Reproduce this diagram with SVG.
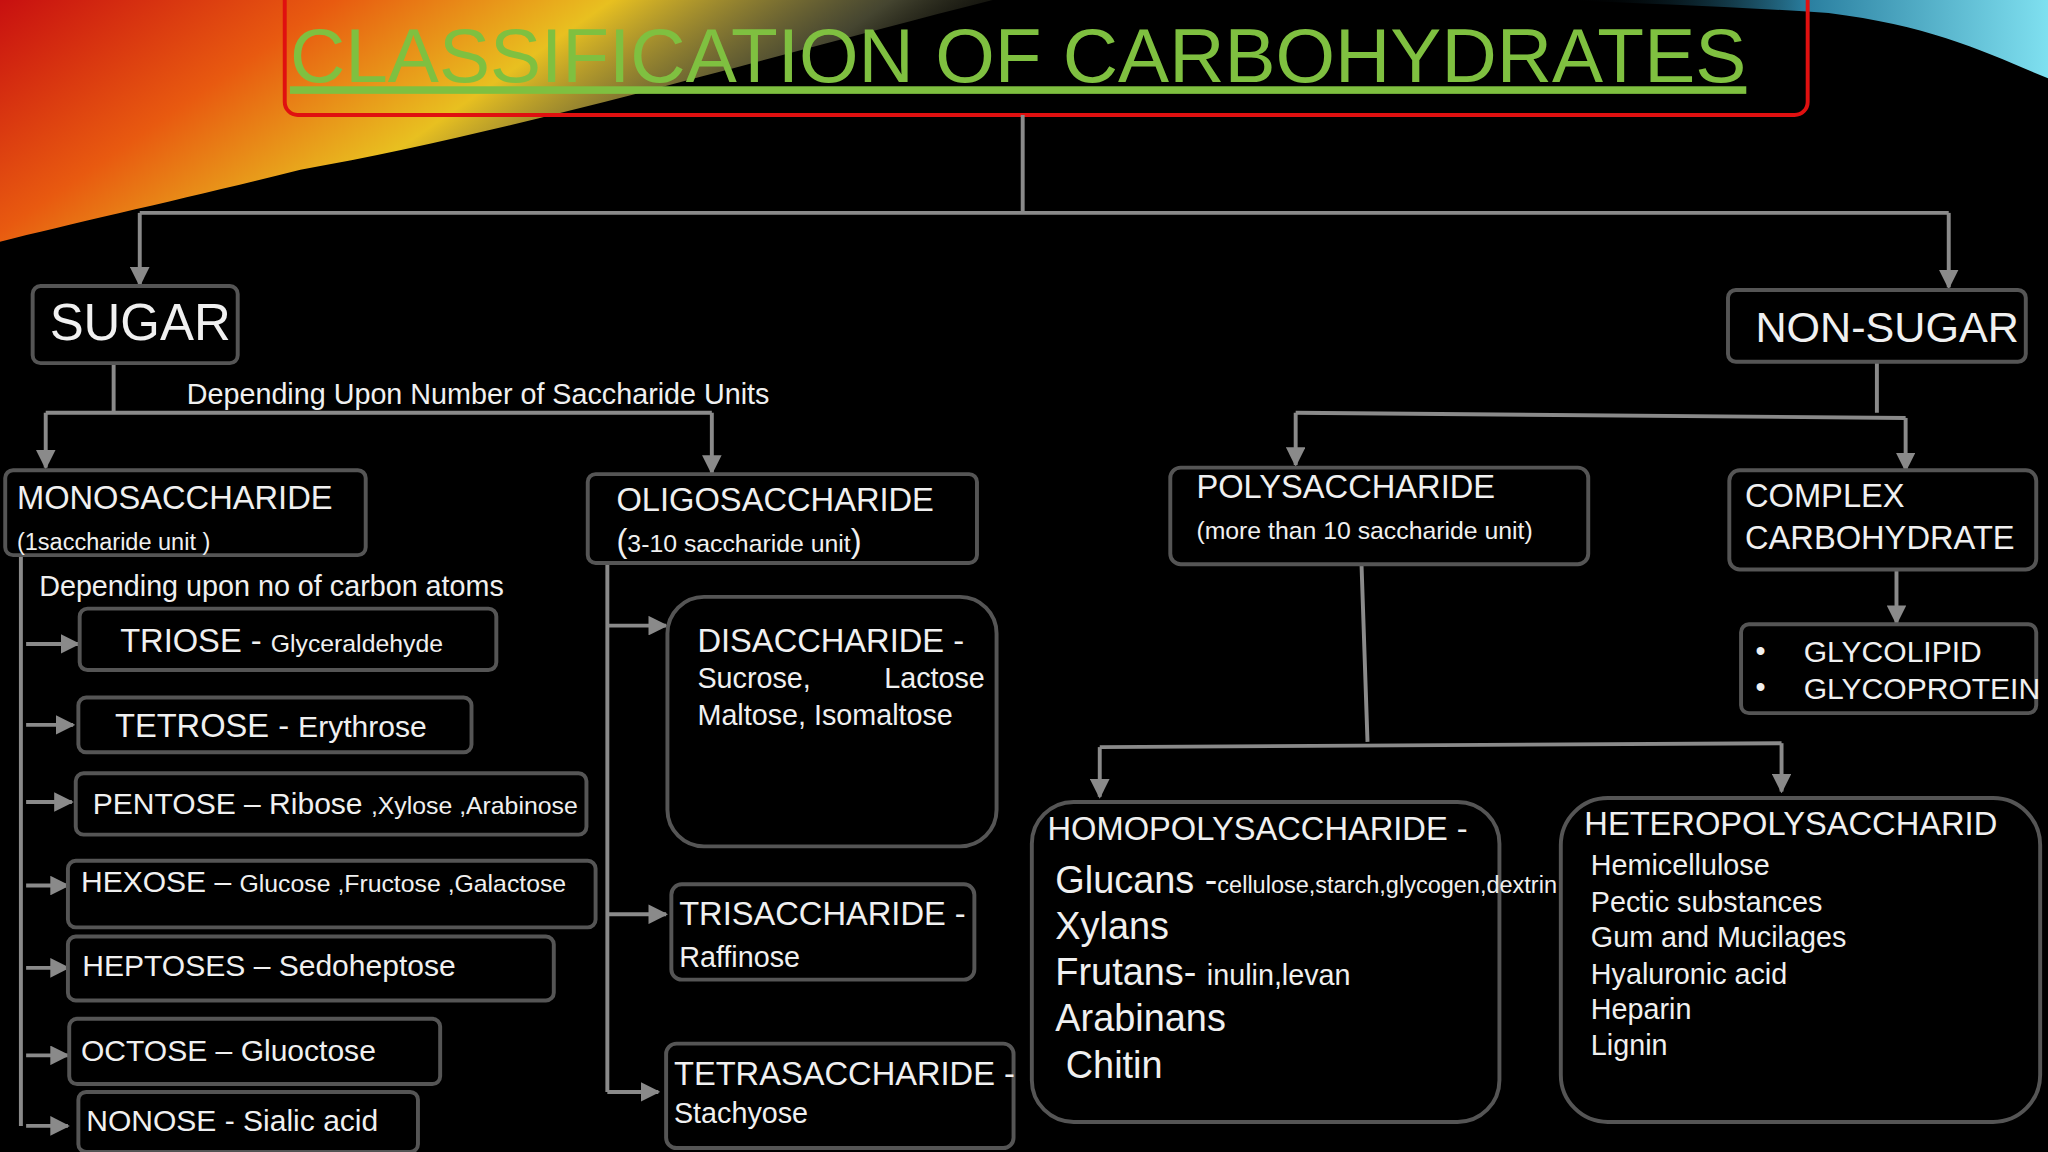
<svg xmlns="http://www.w3.org/2000/svg" width="2048" height="1152" viewBox="0 0 2048 1152">
<defs>
<linearGradient id="lg" x1="0" y1="0" x2="1" y2="0.35">
<stop offset="0" stop-color="#c81010"/><stop offset="0.3" stop-color="#e85a10"/><stop offset="0.55" stop-color="#e8c020"/><stop offset="0.8" stop-color="#8a8a60" stop-opacity="0.5"/><stop offset="1" stop-color="#000" stop-opacity="0"/>
</linearGradient>
<linearGradient id="rg" x1="0" y1="0" x2="1" y2="0">
<stop offset="0" stop-color="#000" stop-opacity="0"/><stop offset="0.5" stop-color="#2a7fa0"/><stop offset="1" stop-color="#7fe0f0"/>
</linearGradient>
<marker id="ah" viewBox="0 0 10 10" refX="9" refY="5" markerWidth="5" markerHeight="5" orient="auto"><path d="M0,0L10,5L0,10z" fill="#8a8a8a"/></marker>
<style>
.b{fill:#000;stroke:#555;stroke-width:3}
.t{font-family:"Liberation Sans",Arial,sans-serif;fill:#f0f0f0}
.c{fill:none;stroke:#8a8a8a;stroke-width:3}
.a{marker-end:url(#ah)}
</style>
</defs>
<rect width="2048" height="1152" fill="#000"/>
<g transform="scale(1.30612)">
<path d="M0,0 H760 C600,40 400,100 230,130 C150,150 60,170 0,185 Z" fill="url(#lg)"/>
<path d="M1200,0 H1568 V60 C1520,40 1480,20 1400,10 C1330,5 1260,3 1200,0 Z" fill="url(#rg)"/>
<g id="title"><rect x="218" y="-10" width="1166" height="98" rx="10" fill="none" stroke="#e01010" stroke-width="3"/>
<text class="t" x="222" y="63" textLength="1115" lengthAdjust="spacingAndGlyphs" font-size="58" style="fill:#7fc040" text-decoration="underline">CLASSIFICATION OF CARBOHYDRATES</text></g>
<g id="connectors">
<path class="c" d="M783,88V163M107,163H1492"/>
<path class="c a" d="M107,163V218"/><path class="c a" d="M1492,163V220"/>
<path class="c" d="M87,278V316M35,316H545"/><path class="c a" d="M35,316V358"/><path class="c a" d="M545,316V362"/>
<path class="c" d="M1437,278V316M992,316L1459,320"/><path class="c a" d="M992,316V356"/><path class="c a" d="M1459,320V360"/>
<path class="c a" d="M1452,436V477"/>
<path class="c" d="M1042,420L1047,568M842,572L1364,569"/><path class="c a" d="M842,572V610"/><path class="c a" d="M1364,569V606"/>
<path class="c" d="M16,426V862"/>
<path class="c a" d="M20,493H60"/><path class="c a" d="M20,555H56"/><path class="c a" d="M20,614H55"/><path class="c a" d="M20,678H52"/><path class="c a" d="M20,741H52"/><path class="c a" d="M20,808H52"/><path class="c a" d="M20,862H52"/>
<path class="c" d="M465,430V836"/><path class="c a" d="M465,479H510"/><path class="c a" d="M465,700H510"/><path class="c a" d="M465,836H504"/>
</g>
<g id="sugar"><rect class="b" x="25" y="219" width="157" height="59" rx="6"/><text class="t" x="38" y="260" font-size="39">SUGAR</text></g>
<g id="nonsugar"><rect class="b" x="1323" y="222" width="228" height="55" rx="6"/><text class="t" x="1344" y="262" font-size="33">NON-SUGAR</text></g>
<text class="t" x="143" y="309" font-size="22">Depending Upon Number of Saccharide Units</text>
<g id="mono"><rect class="b" x="4" y="360" width="276" height="65" rx="6"/><text class="t" x="13" y="390" font-size="25">MONOSACCHARIDE</text><text class="t" x="13" y="421" font-size="18">(1saccharide unit )</text></g>
<text class="t" x="30" y="456" font-size="22">Depending upon no of carbon atoms</text>
<g id="triose"><rect class="b" x="61" y="466" width="319" height="47" rx="6"/><text class="t" x="92" y="499" font-size="25">TRIOSE - <tspan font-size="19">Glyceraldehyde</tspan></text></g>
<g id="tetrose"><rect class="b" x="60" y="534" width="301" height="42" rx="6"/><text class="t" x="88" y="564" font-size="25">TETROSE - <tspan font-size="23">Erythrose</tspan></text></g>
<g id="pentose"><rect class="b" x="58" y="592" width="391" height="47" rx="6"/><text class="t" x="71" y="623" font-size="23">PENTOSE – Ribose <tspan font-size="19">,Xylose ,Arabinose</tspan></text></g>
<g id="hexose"><rect class="b" x="52" y="659" width="404" height="51" rx="6"/><text class="t" x="62" y="683" font-size="23">HEXOSE – <tspan font-size="19">Glucose ,Fructose ,Galactose</tspan></text></g>
<g id="heptose"><rect class="b" x="52" y="717" width="372" height="49" rx="6"/><text class="t" x="63" y="747" font-size="23">HEPTOSES – Sedoheptose</text></g>
<g id="octose"><rect class="b" x="53" y="780" width="284" height="50" rx="6"/><text class="t" x="62" y="812" font-size="23">OCTOSE –  Gluoctose</text></g>
<g id="nonose"><rect class="b" x="60" y="836" width="260" height="46" rx="6"/><text class="t" x="66" y="866" font-size="23">NONOSE - Sialic acid</text></g>
<g id="oligo"><rect class="b" x="450" y="363" width="298" height="68" rx="6"/><text class="t" x="472" y="391" font-size="25">OLIGOSACCHARIDE</text><text class="t" x="472" y="423" font-size="19"><tspan font-size="25">(</tspan>3-10 saccharide unit<tspan font-size="25">)</tspan></text></g>
<g id="di"><rect class="b" x="511" y="457" width="252" height="191" rx="28"/><text class="t" x="534" y="499" font-size="25">DISACCHARIDE -</text><text class="t" x="534" y="527" font-size="22">Sucrose,</text><text class="t" x="754" y="527" font-size="22" text-anchor="end">Lactose</text><text class="t" x="534" y="555" font-size="22">Maltose,  Isomaltose</text></g>
<g id="tri"><rect class="b" x="514" y="677" width="232" height="73" rx="8"/><text class="t" x="520" y="708" font-size="25">TRISACCHARIDE -</text><text class="t" x="520" y="740" font-size="22">Raffinose</text></g>
<g id="tetra"><rect class="b" x="510" y="799" width="266" height="80" rx="8"/><text class="t" x="516" y="831" font-size="25">TETRASACCHARIDE -</text><text class="t" x="516" y="860" font-size="22">Stachyose</text></g>
<g id="poly"><rect class="b" x="896" y="358" width="320" height="74" rx="8"/><text class="t" x="916" y="381" font-size="25">POLYSACCHARIDE</text><text class="t" x="916" y="413" font-size="19">(more than 10 saccharide unit)</text></g>
<g id="complex"><rect class="b" x="1324" y="360" width="235" height="76" rx="8"/><text class="t" x="1336" y="388" font-size="25">COMPLEX</text><text class="t" x="1336" y="420" font-size="25">CARBOHYDRATE</text></g>
<g id="glyco"><rect class="b" x="1333" y="478" width="226" height="68" rx="6"/><text class="t" x="1344" y="506" font-size="22">•</text><text class="t" x="1381" y="507" font-size="23">GLYCOLIPID</text><text class="t" x="1344" y="534" font-size="22">•</text><text class="t" x="1381" y="535" font-size="23">GLYCOPROTEIN</text></g>
<g id="homo"><rect class="b" x="790" y="614" width="358" height="245" rx="32"/><text class="t" x="802" y="643" font-size="25">HOMOPOLYSACCHARIDE -</text>
<text class="t" x="808" y="684" font-size="29">Glucans -<tspan font-size="18">cellulose,starch,glycogen,dextrin</tspan></text>
<text class="t" x="808" y="719" font-size="29">Xylans</text><text class="t" x="808" y="754" font-size="29">Frutans- <tspan font-size="22">inulin,levan</tspan></text>
<text class="t" x="808" y="789" font-size="29">Arabinans</text><text class="t" x="816" y="825" font-size="29">Chitin</text></g>
<g id="hetero"><rect class="b" x="1195" y="611" width="367" height="248" rx="36"/><text class="t" x="1213" y="639" font-size="25">HETEROPOLYSACCHARID</text>
<text class="t" x="1218" y="670" font-size="22">Hemicellulose</text><text class="t" x="1218" y="698" font-size="22">Pectic substances</text><text class="t" x="1218" y="725" font-size="22">Gum and Mucilages</text><text class="t" x="1218" y="753" font-size="22">Hyaluronic acid</text><text class="t" x="1218" y="780" font-size="22">Heparin</text><text class="t" x="1218" y="808" font-size="22">Lignin</text></g>
</g>
</svg>
